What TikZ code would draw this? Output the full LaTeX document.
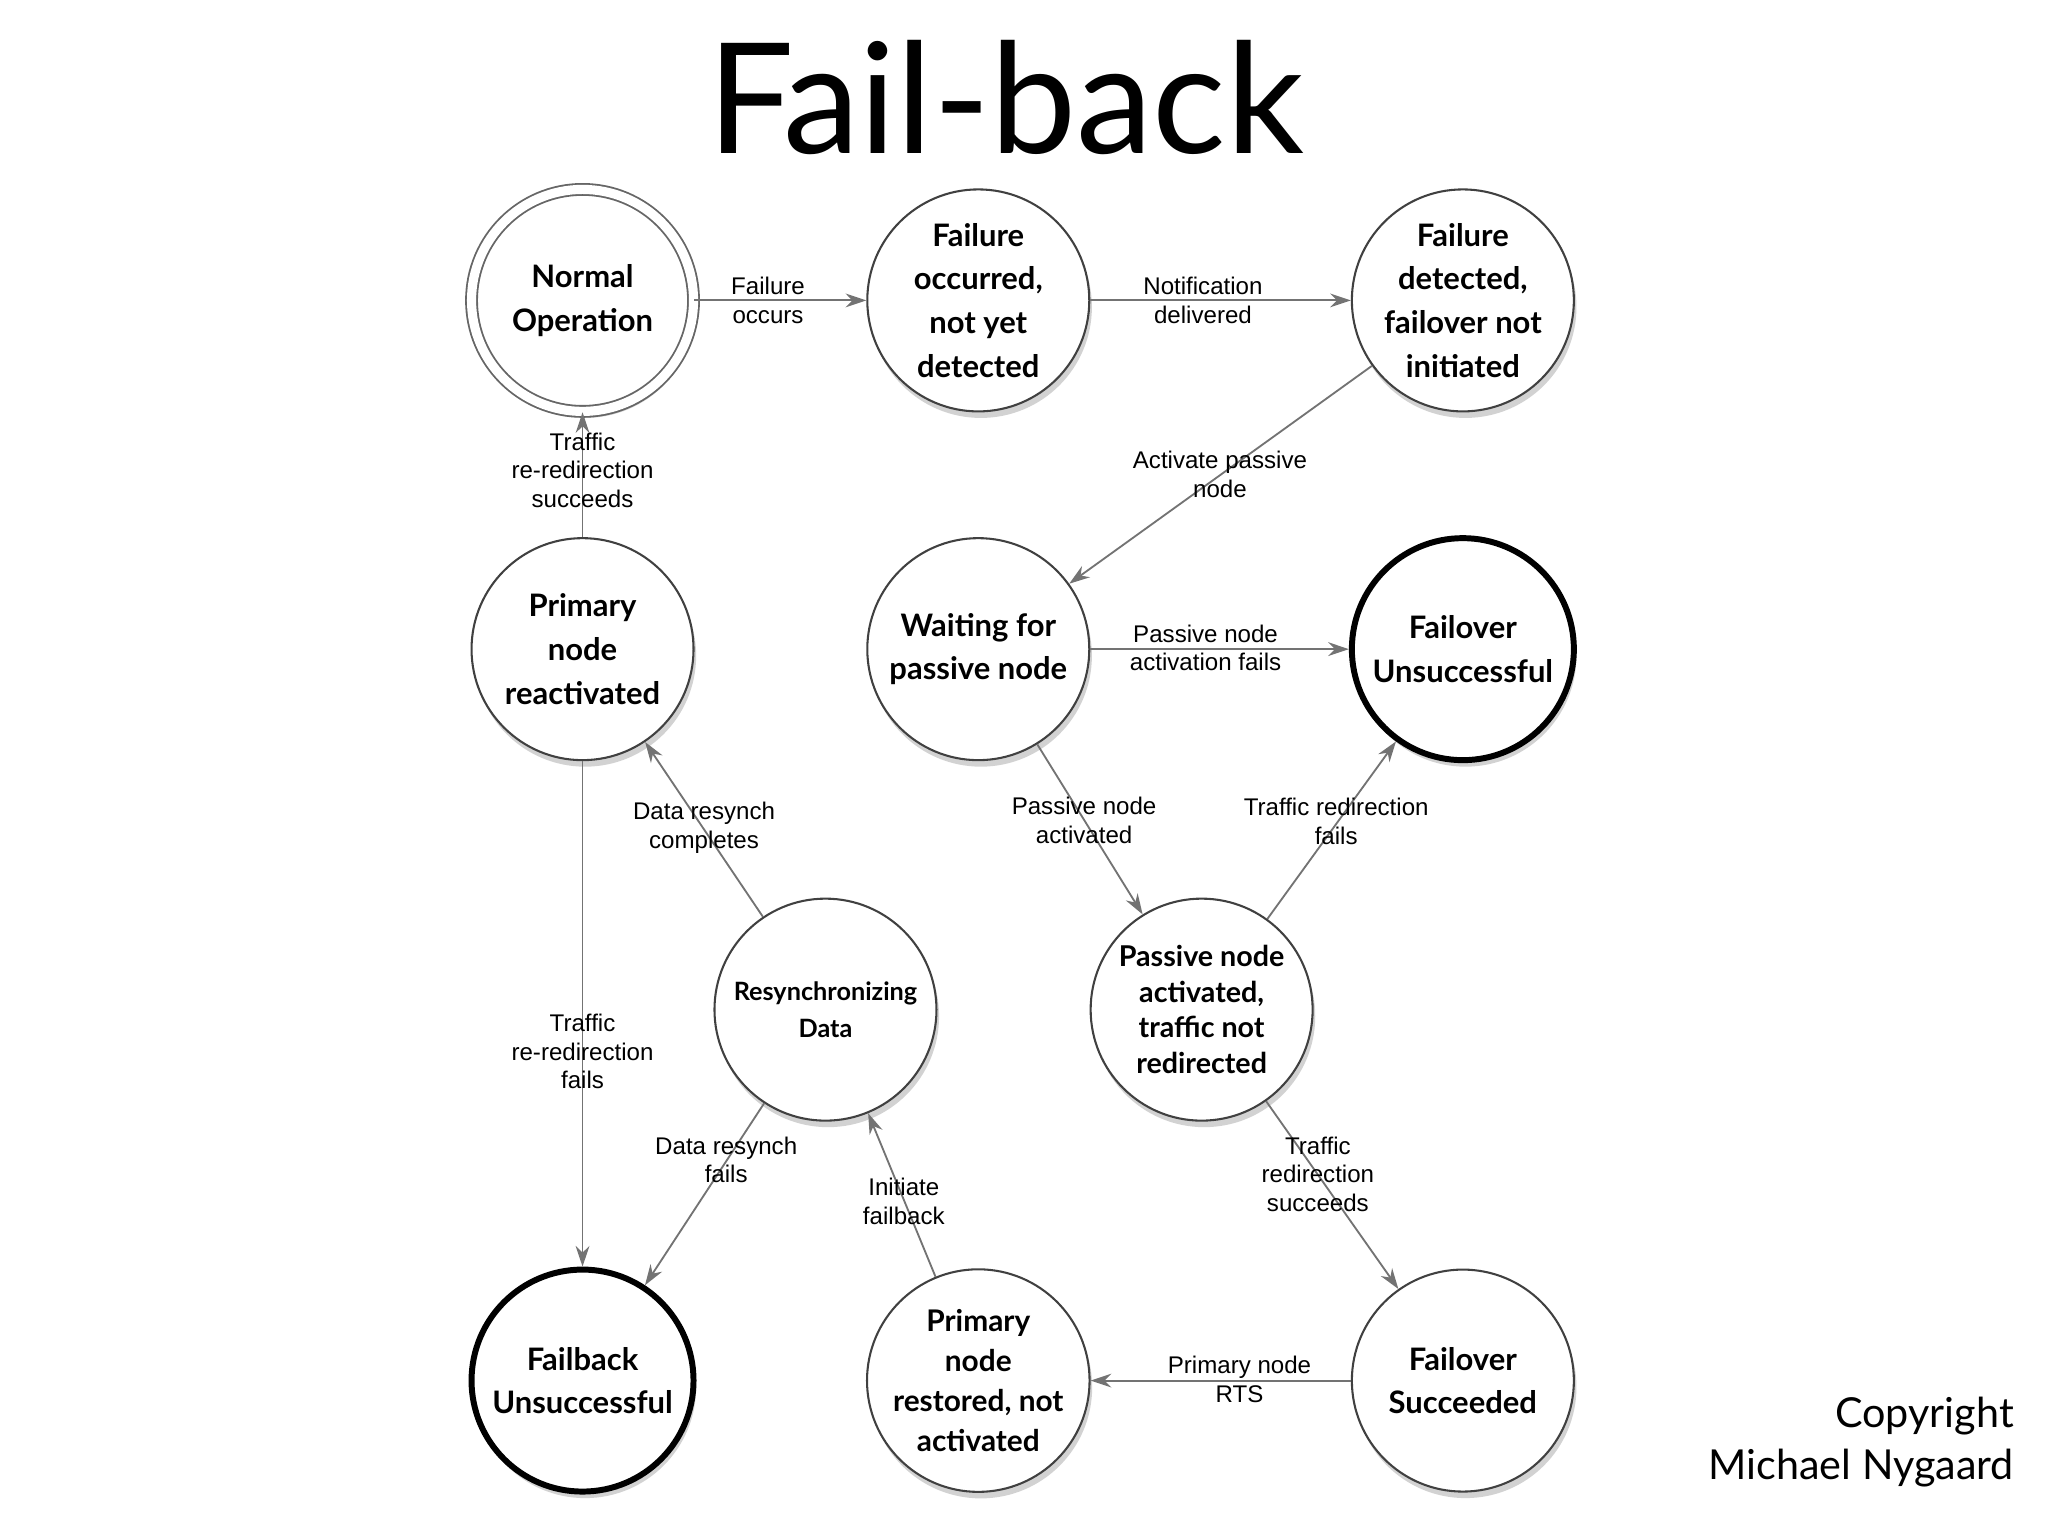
\documentclass[tikz,border=0pt]{standalone}
\usepackage{fontspec}
\setmainfont{Lato}
\newfontfamily\lblfont{Liberation Sans}
\usetikzlibrary{arrows.meta,shadows}
\begin{document}
\begin{tikzpicture}[x=0.02cm,y=-0.02cm,
  st/.style={circle,draw=black!75,line width=0.9pt,fill=white,minimum size=3.4cm,inner sep=0pt,align=center,
    font=\fontsize{13.5}{19}\selectfont\bfseries,drop shadow={shadow xshift=0.04cm,shadow yshift=-0.1cm,fill=black!35}},
  fin/.style={st,line width=2.6pt,draw=black},
  init/.style={st,double=white,double distance=0.14cm,line width=0.8pt,draw=black!60},
  ar/.style={-{Stealth[length=9pt,width=6pt]},draw=black!55,line width=0.8pt},
  lb/.style={align=center,font=\lblfont\fontsize{10.5}{12.5}\selectfont,inner sep=0pt}]
\useasboundingbox (0,0) rectangle (1568,1176);
\node[font=\fontsize{67}{70}\selectfont] (title) at (770,75) {Fail-back};
\node[init] (no) at (446,230) {Normal\\Operation};
\node[st] (fo) at (749,230) {Failure\\occurred,\\not yet\\detected};
\node[st] (fd) at (1120,230) {Failure\\detected,\\failover not\\initiated};
\node[st] (pr) at (446,497) {Primary\\node\\reactivated};
\node[st] (wp) at (749,497) {Waiting for\\passive node};
\node[fin] (fu) at (1120,497) {Failover\\Unsuccessful};
\node[st,font=\fontsize{11}{16}\selectfont\bfseries] (rd) at (632,773) {Resynchronizing\\Data};
\node[st,font=\fontsize{12.5}{15.5}\selectfont\bfseries] (pa) at (920,773) {Passive node\\activated,\\traffic not\\redirected};
\node[fin] (fb) at (446,1057) {Failback\\Unsuccessful};
\node[st,font=\fontsize{13}{17.5}\selectfont\bfseries] (ps) at (749,1057) {Primary\\node\\restored, not\\activated};
\node[st] (fs) at (1120,1057) {Failover\\Succeeded};
\draw[ar] (no) -- (fo);
\draw[ar] (fo) -- (fd);
\draw[ar] (fd) -- (wp);
\draw[ar] (pr) -- (no);
\draw[ar] (wp) -- (fu);
\draw[ar] (wp) -- (pa);
\draw[ar] (pa) -- (fu);
\draw[ar] (rd) -- (pr);
\draw[ar] (pr) -- (fb);
\draw[ar] (rd) -- (fb);
\draw[ar] (ps) -- (rd);
\draw[ar] (pa) -- (fs);
\draw[ar] (fs) -- (ps);
\node[lb] (l1) at (588,230) {Failure\\occurs};
\node[lb] (l2) at (921,230) {Notification\\delivered};
\node[lb] (l3) at (934,363) {Activate passive\\node};
\node[lb] (l4) at (446,360) {Traffic\\re-redirection\\succeeds};
\node[lb] (l5) at (923,496) {Passive node\\activation fails};
\node[lb] (l6) at (830,628) {Passive node\\activated};
\node[lb] (l7) at (1023,629) {Traffic redirection\\fails};
\node[lb] (l8) at (539,634) {Data resynch\\completes};
\node[lb] (l9) at (446,805) {Traffic\\re-redirection\\fails};
\node[lb] (l10) at (556,888) {Data resynch\\fails};
\node[lb] (l11) at (692,920) {Initiate\\failback};
\node[lb] (l12) at (1009,899) {Traffic\\redirection\\succeeds};
\node[lb] (l13) at (949,1056) {Primary node\\RTS};
\node[align=right,anchor=east,font=\fontsize{18}{22.5}\selectfont] (cp) at (1548,1104) {Copyright\\Michael Nygaard};
\end{tikzpicture}
\end{document}
